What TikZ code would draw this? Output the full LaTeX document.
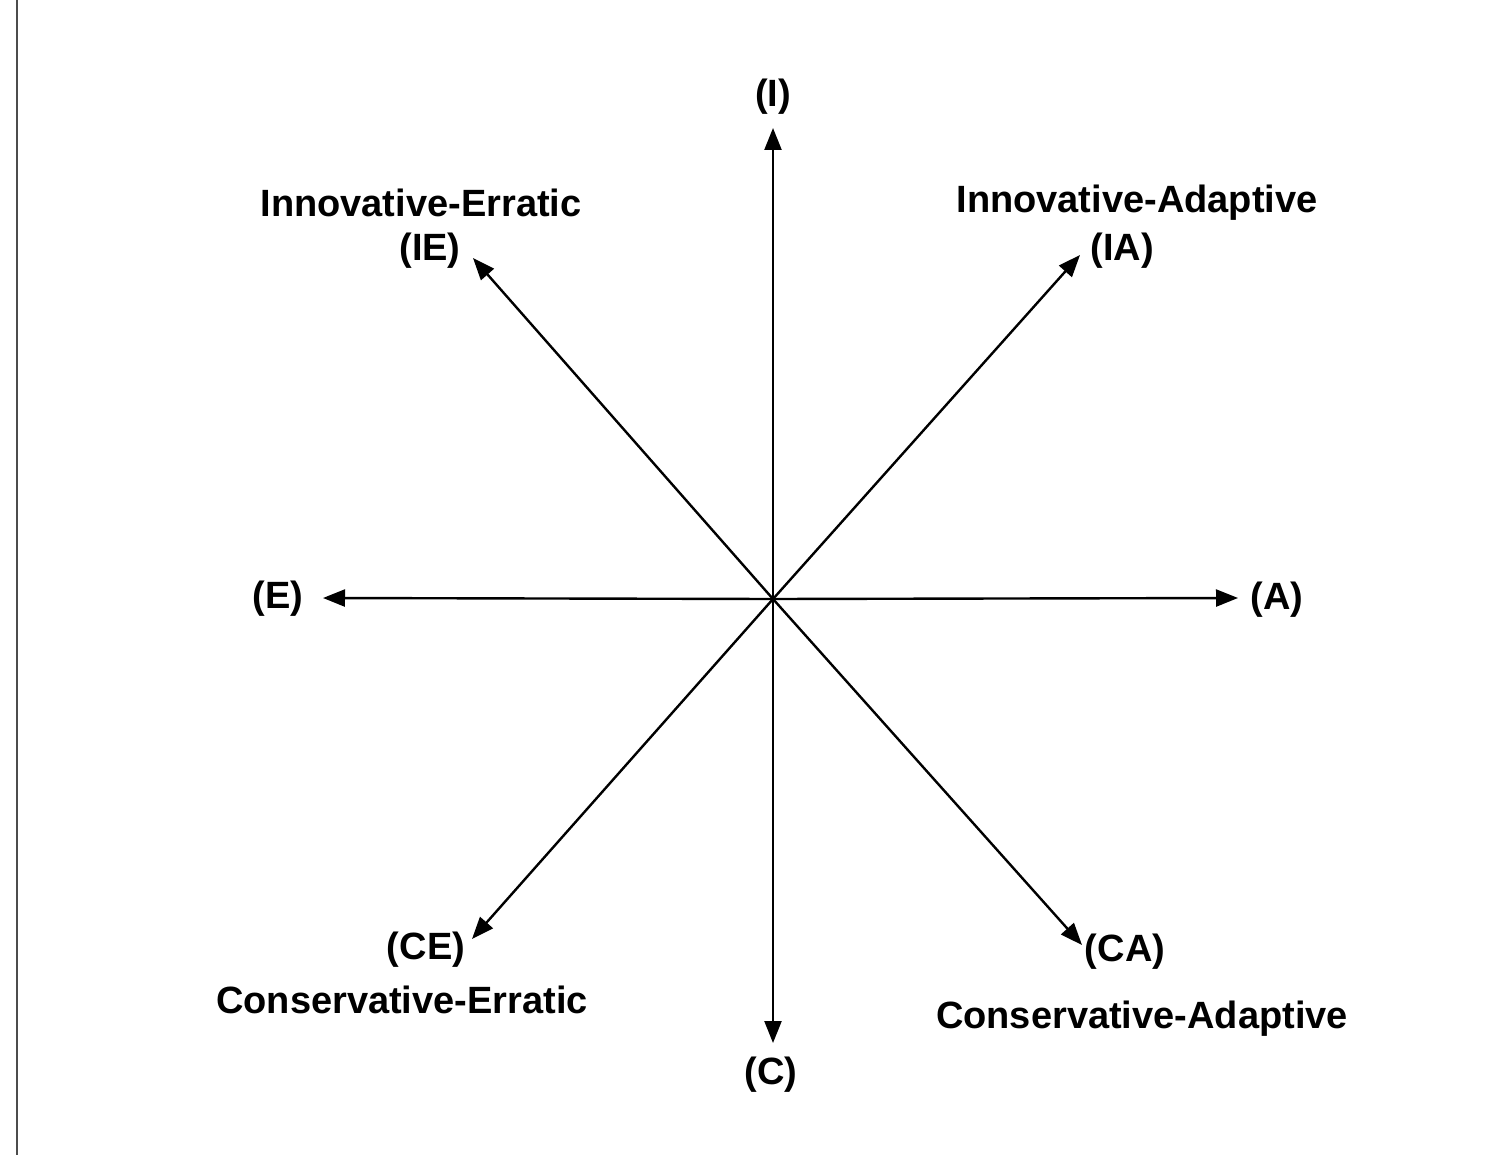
\documentclass[tikz,border=0pt]{standalone}
\usepackage{fontspec}
\setmainfont{Liberation Sans}
\usetikzlibrary{arrows.meta}
\begin{document}
\begin{tikzpicture}[x=0.5pt,y=-0.5pt,
  axis/.style={line width=1.2pt,-{Triangle[length=11pt,width=8.5pt]}},
  lbl/.style={anchor=base,inner sep=0pt,font=\fontsize{19}{22}\selectfont\bfseries}]
\useasboundingbox (0,0) rectangle (1505,1155);
\fill[white] (0,0) rectangle (1505,1155);
\draw[line width=1.2pt,black!70] (17,0) -- (17,1155);
% center and tips
\coordinate (O) at (773,599);
\coordinate (tI) at (773,128);
\coordinate (tC) at (773,1043);
\coordinate (tE) at (323,598);
\coordinate (tA) at (1238,598);
\coordinate (tIE) at (473,258);
\coordinate (tIA) at (1080,255);
\coordinate (tCE) at (472,939);
\coordinate (tCA) at (1082,945);
\foreach \t in {tI,tC,tE,tA,tIE,tIA,tCE,tCA} \draw[axis] (O) -- (\t);
% labels
\node[lbl] (lI) at (773,107) {(I)};
\node[lbl] (lC) at (771,1084) {(C)};
\node[lbl] (lE) at (278,608) {(E)};
\node[lbl] (lA) at (1277,609) {(A)};
\node[lbl] (lIEn) at (421,217) {Innovative-Erratic};
\node[lbl] (lIE) at (430,261) {(IE)};
\node[lbl] (lIAn) at (1137,213) {Innovative-Adaptive};
\node[lbl] (lIA) at (1122,261) {(IA)};
\node[lbl] (lCE) at (426,959) {(CE)};
\node[lbl] (lCEn) at (402,1013) {Conservative-Erratic};
\node[lbl] (lCA) at (1125,961) {(CA)};
\node[lbl] (lCAn) at (1142,1028) {Conservative-Adaptive};
\end{tikzpicture}
\end{document}
